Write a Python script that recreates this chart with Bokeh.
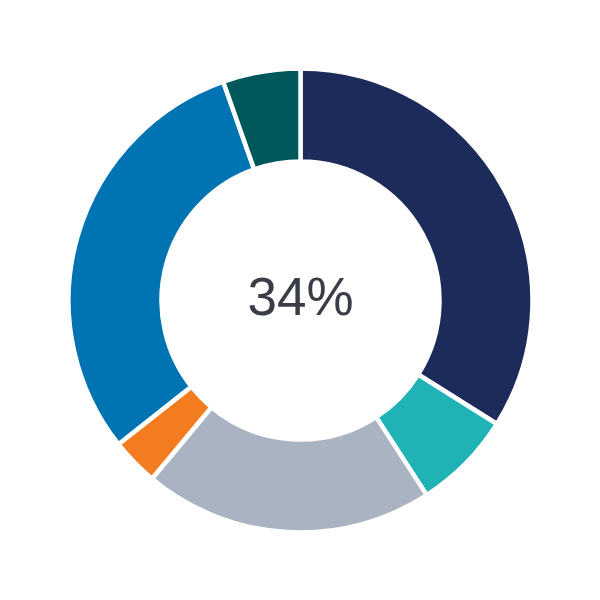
import numpy as np
from bokeh.plotting import figure
from bokeh.models import ColumnDataSource, Range1d
from bokeh.core.properties import value
from bokeh.embed import file_html
from bokeh.resources import INLINE

# Data
categories = ["A", "B", "C", "D", "E", "F"]
shares = [33.9, 6.9, 20.2, 3.3, 30.2, 5.4]
colors = ["#1c2b5a", "#1fb3b5", "#a9b3c1", "#f37b20", "#0073b2", "#00585a"]
center_label = "34%"

W = H = 584
cx, cy = 300, 284
r_out, r_in = 232, 139

vals = np.array(shares, dtype=float)
frac = vals / vals.sum()
cum = np.concatenate([[0], np.cumsum(frac)])
start = np.pi / 2 - 2 * np.pi * cum[:-1]
end = np.pi / 2 - 2 * np.pi * cum[1:]

src = ColumnDataSource(dict(cat=categories, start=start, end=end, color=colors,
                            x=[cx] * len(categories), y=[cy] * len(categories)))

p = figure(width=W, height=H, output_backend="svg", toolbar_location=None,
           x_range=Range1d(0, W), y_range=Range1d(0, H), min_border=0)
p.axis.visible = False
p.grid.visible = False
p.outline_line_color = None
p.background_fill_color = "white"
p.border_fill_color = "white"

p.annular_wedge(x="x", y="y", inner_radius=r_in, outer_radius=r_out,
                start_angle="start", end_angle="end", direction="clock",
                fill_color="color", line_color="white", line_width=4.5, source=src)

p.text(x=[cx], y=[cy + 4], text=[center_label], text_align="center",
       text_baseline="middle", text_font=value("Liberation Sans"),
       text_font_size="53px", text_color="#3a3d45")

open("out.html", "w").write(file_html(p, INLINE))
